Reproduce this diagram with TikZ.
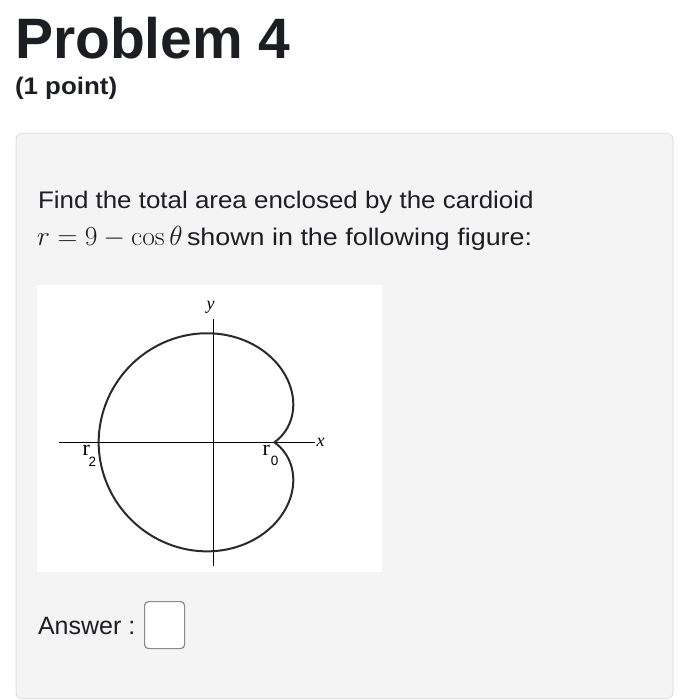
\documentclass[tikz,border=0pt]{standalone}
\usepackage{fix-cm}
\usepackage[no-math]{fontspec}
\setmainfont{Liberation Sans}
\newfontfamily\serifx{Liberation Serif}
\usepackage{graphicx}
\definecolor{ink}{HTML}{1D1E22}
\definecolor{panel}{HTML}{F4F4F4}
\definecolor{panelline}{HTML}{E2E2E2}
\definecolor{curvec}{HTML}{2A2A2A}
\definecolor{boxline}{HTML}{8A8A8A}
\begin{document}
\begin{tikzpicture}[x=1pt,y=-1pt,
  txt/.style={anchor=base west, inner sep=0pt, outer sep=0pt, text=ink},
  axisline/.style={draw=black, line width=1.4pt},
  curveline/.style={draw=curvec, line width=2pt, line join=round},
  lab/.style={anchor=base west, inner sep=0pt, text=black}]
\useasboundingbox[fill=white] (0,0) rectangle (688,700);
% title
\node[txt, font=\fontsize{57}{60}\selectfont\bfseries] (title) at (15,58.5) {Problem 4};
\node[txt, font=\fontsize{24}{26}\selectfont\bfseries] (pts) at (15,94.5) {\scalebox{1.08}[1]{(1 point)}};
% panel
\node[draw=panelline, fill=panel, rounded corners=6pt, line width=1pt, minimum width=657pt, minimum height=565pt, anchor=north west, inner sep=0pt] (panel) at (15.5,133) {};
% question
\node[txt, font=\fontsize{24}{28}\selectfont] (q1) at (38,208.5) {\scalebox{1.08}[1]{Find the total area enclosed by the cardioid}};
\node[txt, font=\fontsize{27.5}{30}\selectfont] (q2m) at (37,246) {$r = 9 - \cos\theta$};
\node[txt, font=\fontsize{24}{28}\selectfont] (q2) at (187,246) {\scalebox{1.12}[1]{shown in the following figure:}};
% figure
\node[fill=white, minimum width=345pt, minimum height=287pt, anchor=north west, inner sep=0pt] (fig) at (37,285) {};
\coordinate (o) at (213.3,442.3);
\coordinate (xl) at (59,442.3);
\coordinate (xr) at (315,442.3);
\coordinate (yt) at (213.3,319);
\coordinate (yb) at (213.3,566);
\draw[axisline] (xl) -- (xr);
\draw[axisline] (yt) -- (yb);
\draw[curveline] plot[domain=-180:180, samples=361]
  ({213.3+(115-54*exp(-abs(\x)/35.6))*cos(\x)}, {442.3-(113-52*exp(-abs(\x)/35.6))*sin(\x)});
\node[lab, font=\serifx\itshape\fontsize{18}{18}\selectfont] (ylab) at (206.5,309) {y};
\node[lab, font=\serifx\itshape\fontsize{18}{18}\selectfont] (xlab) at (316.5,446.7) {x};
\node[lab, font=\serifx\fontsize{22}{22}\selectfont] (r2) at (82.3,455) {r};
\node[lab, font=\fontsize{13.5}{14}\selectfont] (r2s) at (88.3,466) {2};
\node[lab, font=\serifx\fontsize{22}{22}\selectfont] (r0) at (262.3,455) {r};
\node[lab, font=\fontsize{13.5}{14}\selectfont] (r0s) at (270.7,465.5) {0};
% answer
\node[txt, font=\fontsize{25}{28}\selectfont] (ans) at (38,634) {Answer :};
\node[draw=boxline, fill=white, rounded corners=4pt, line width=1.2pt, minimum width=40pt, minimum height=47pt, anchor=north west, inner sep=0pt] (ansbox) at (144,601) {};
\end{tikzpicture}
\end{document}
